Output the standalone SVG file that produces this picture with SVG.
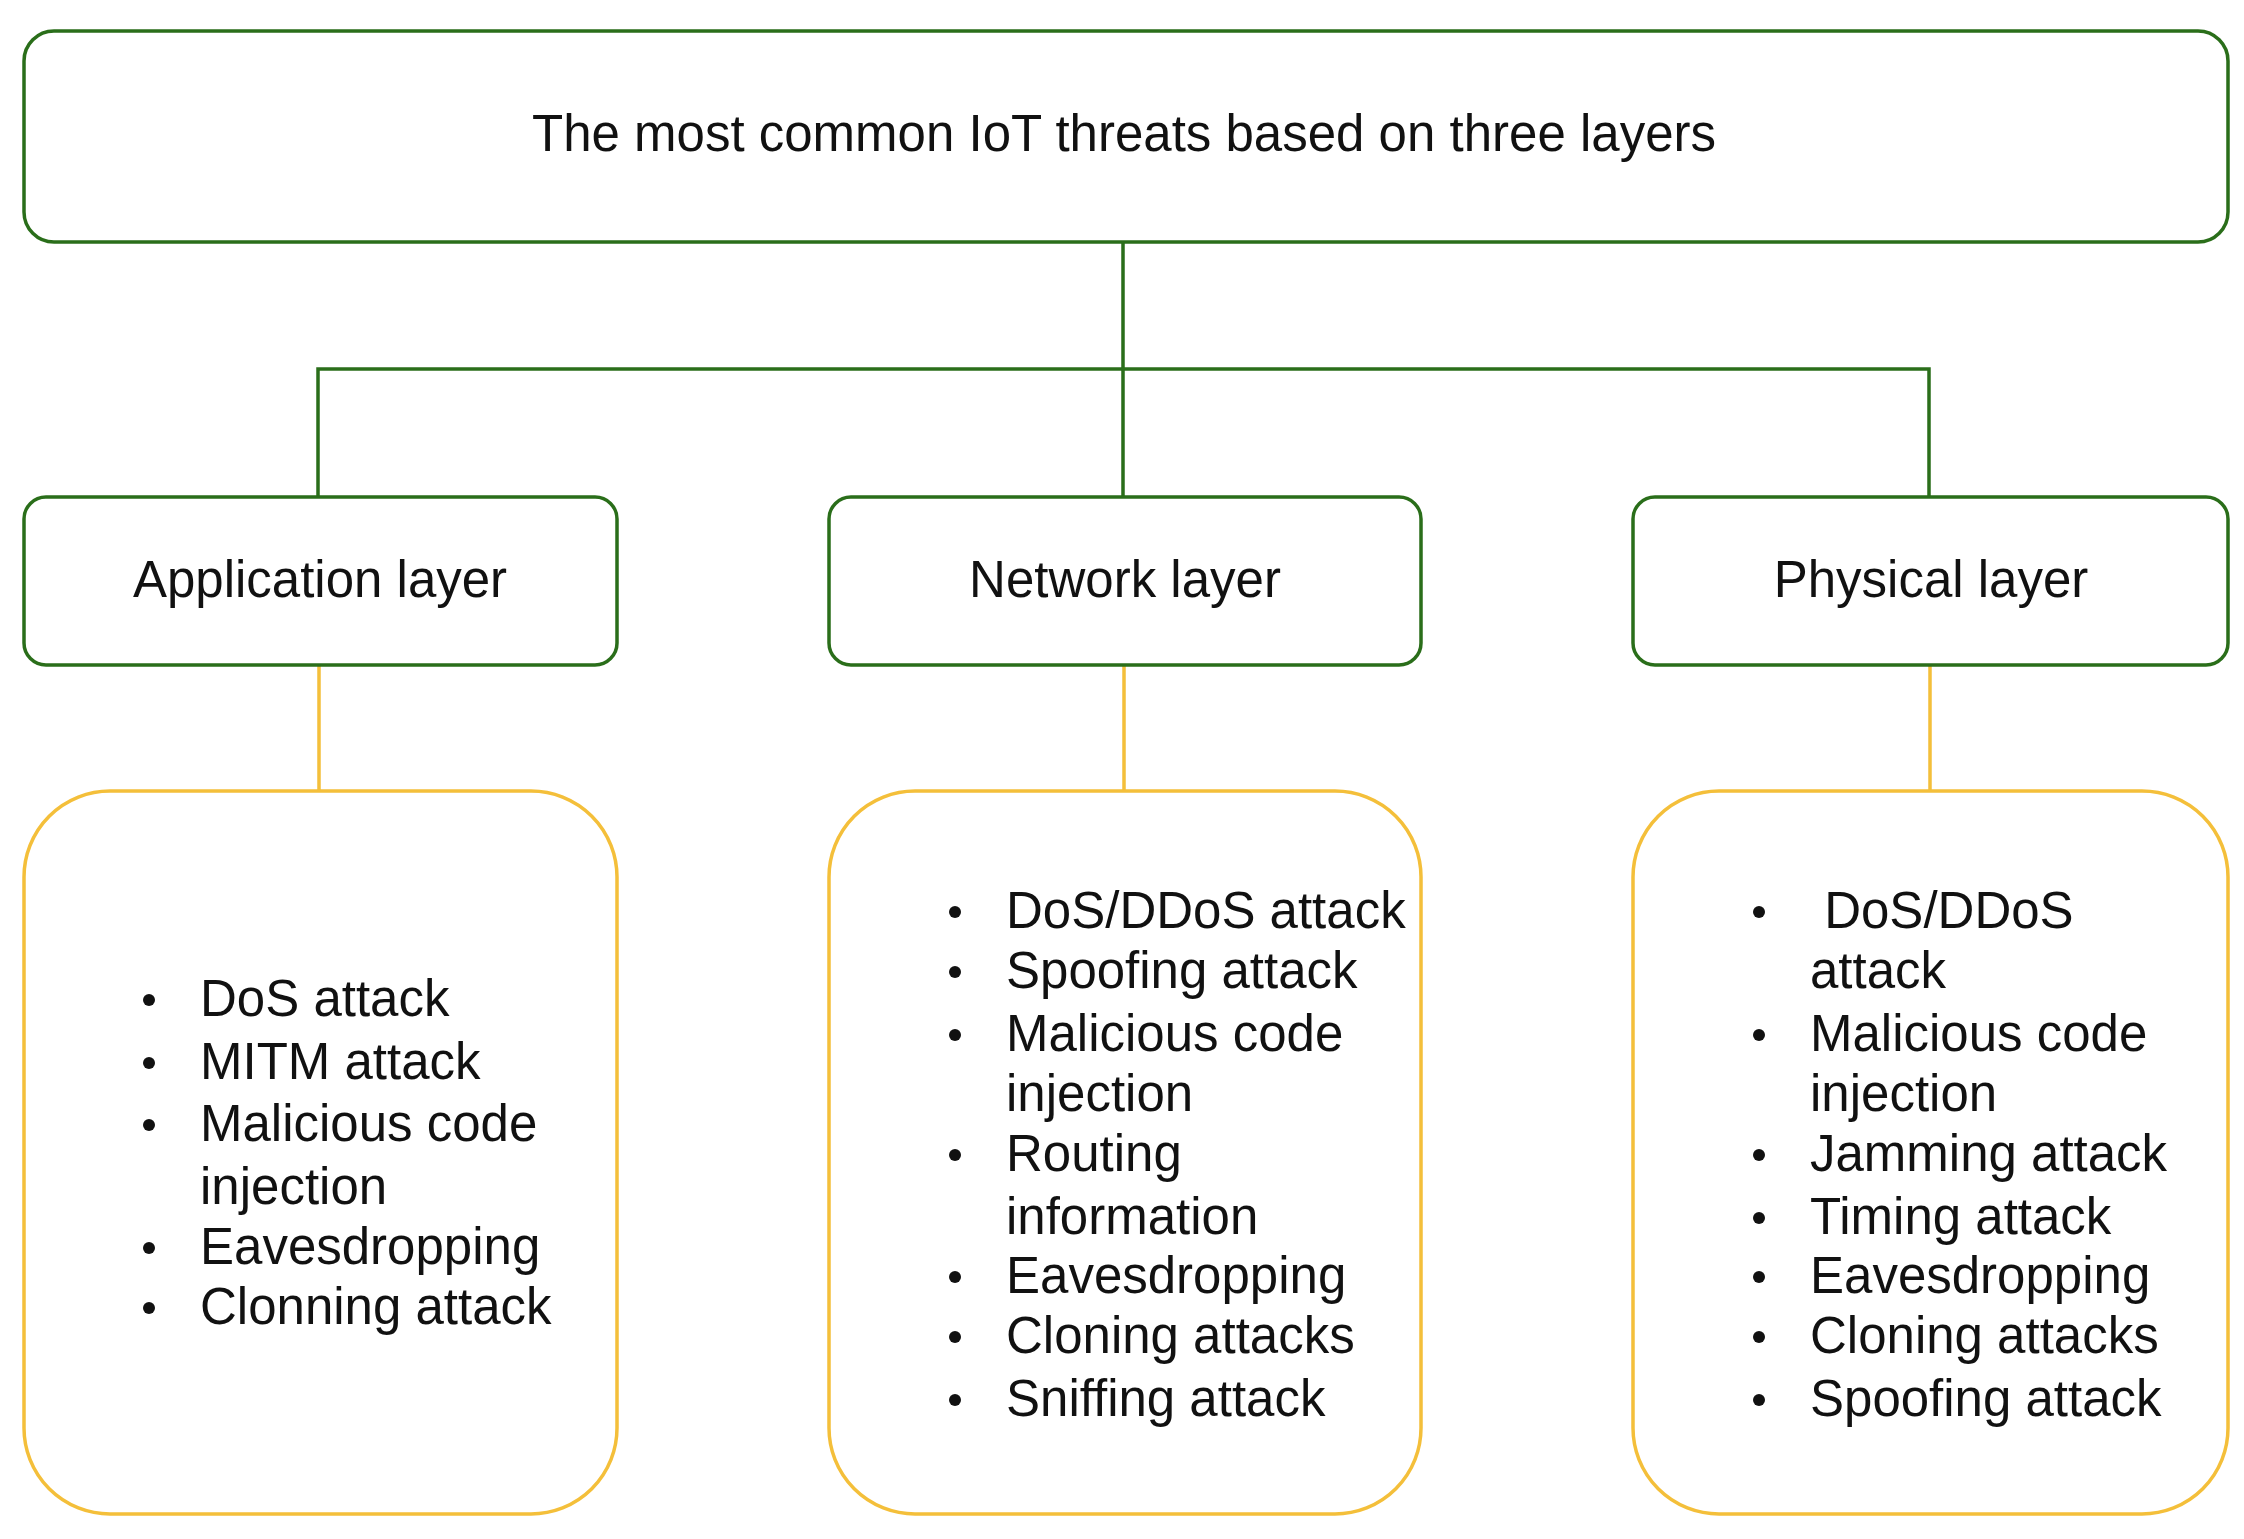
<svg xmlns="http://www.w3.org/2000/svg" width="2244" height="1539" viewBox="0 0 2244 1539">
<style>
.g{fill:#fff;stroke:#2a6e1a;stroke-width:3.5}
.y{fill:#fff;stroke:#f4bf3a;stroke-width:3.5}
.gl{stroke:#2a6e1a;stroke-width:3.5;fill:none}
.yl{stroke:#f4bf3a;stroke-width:3.5;fill:none}
text{font-family:"Liberation Sans",Arial,sans-serif;font-size:51px;fill:#111}
.c{text-anchor:middle}
</style>
<rect width="2244" height="1539" fill="#fff"/>
<g id="connectors">
<path class="gl" d="M1123 242V497M318 497V369H1929V497"/>
<path class="yl" d="M319 665V791M1124 665V791M1930 665V791"/>
</g>
<g id="title"><rect class="g" x="24" y="31" width="2204" height="211" rx="30"/><text class="c" x="1124" y="151">The most common IoT threats based on three layers</text></g>
<g id="app"><rect class="g" x="24" y="497" width="593" height="168" rx="22"/><text class="c" x="320" y="597">Application layer</text></g>
<g id="net"><rect class="g" x="829" y="497" width="592" height="168" rx="22"/><text class="c" x="1125" y="597">Network layer</text></g>
<g id="phy"><rect class="g" x="1633" y="497" width="595" height="168" rx="22"/><text class="c" x="1931" y="597">Physical layer</text></g>
<g id="app-list"><rect class="y" x="24" y="791" width="593" height="723" rx="86"/>
<g fill="#111"><circle cx="149" cy="1000" r="6"/><circle cx="149" cy="1063" r="6"/><circle cx="149" cy="1125" r="6"/><circle cx="149" cy="1248" r="6"/><circle cx="149" cy="1308" r="6"/></g>
<text x="200" y="1016">DoS attack</text><text x="200" y="1079">MITM attack</text><text x="200" y="1141">Malicious code</text><text x="200" y="1204">injection</text><text x="200" y="1264">Eavesdropping</text><text x="200" y="1324">Clonning attack</text>
</g>
<g id="net-list"><rect class="y" x="829" y="791" width="592" height="723" rx="86"/>
<g fill="#111"><circle cx="955" cy="912" r="6"/><circle cx="955" cy="972" r="6"/><circle cx="955" cy="1035" r="6"/><circle cx="955" cy="1155" r="6"/><circle cx="955" cy="1277" r="6"/><circle cx="955" cy="1337" r="6"/><circle cx="955" cy="1400" r="6"/></g>
<text x="1006" y="928">DoS/DDoS attack</text><text x="1006" y="988">Spoofing attack</text><text x="1006" y="1051">Malicious code</text><text x="1006" y="1111">injection</text><text x="1006" y="1171">Routing</text><text x="1006" y="1234">information</text><text x="1006" y="1293">Eavesdropping</text><text x="1006" y="1353">Cloning attacks</text><text x="1006" y="1416">Sniffing attack</text>
</g>
<g id="phy-list"><rect class="y" x="1633" y="791" width="595" height="723" rx="86"/>
<g fill="#111"><circle cx="1759" cy="912" r="6"/><circle cx="1759" cy="1035" r="6"/><circle cx="1759" cy="1155" r="6"/><circle cx="1759" cy="1218" r="6"/><circle cx="1759" cy="1277" r="6"/><circle cx="1759" cy="1337" r="6"/><circle cx="1759" cy="1400" r="6"/></g>
<text x="1810" y="928" xml:space="preserve"> DoS/DDoS</text><text x="1810" y="988">attack</text><text x="1810" y="1051">Malicious code</text><text x="1810" y="1111">injection</text><text x="1810" y="1171">Jamming attack</text><text x="1810" y="1234">Timing attack</text><text x="1810" y="1293">Eavesdropping</text><text x="1810" y="1353">Cloning attacks</text><text x="1810" y="1416">Spoofing attack</text>
</g>
</svg>
